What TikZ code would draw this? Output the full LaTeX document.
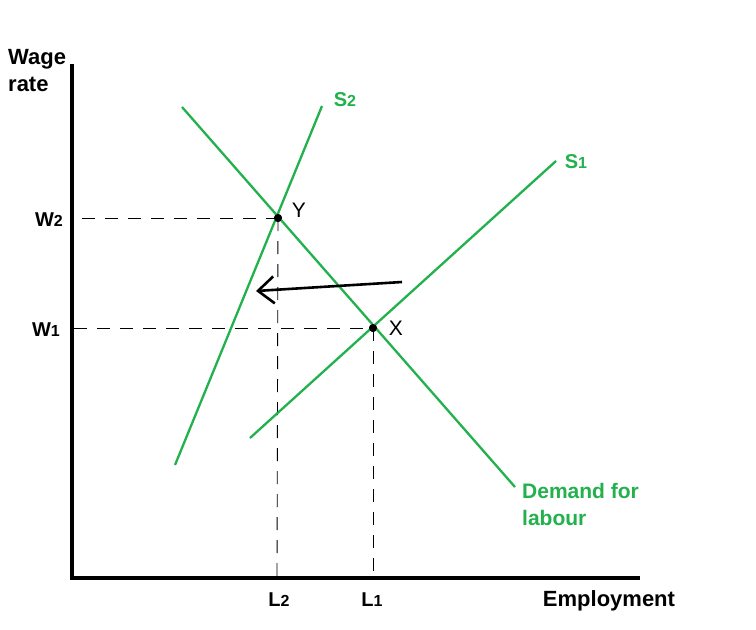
\documentclass[tikz,border=0pt]{standalone}
\usepackage{fontspec}
\setmainfont{Liberation Sans}
\usetikzlibrary{arrows.meta}
\definecolor{pgreen}{RGB}{34,177,76}
\newcommand{\dig}[1]{{\fontsize{16}{16}\selectfont #1}}
\begin{document}
\begin{tikzpicture}[x=1pt,y=-1pt,
  axisline/.style={line width=4.5pt,line cap=rect},
  curve/.style={pgreen,line width=2.3pt},
  guide/.style={line width=0.9pt,dash pattern=on 13pt off 10pt},
  dot/.style={circle,fill=black,inner sep=0pt,minimum size=8pt},
  lab/.style={font=\fontsize{20}{22}\selectfont\bfseries,inner sep=0pt},
  biglab/.style={font=\fontsize{22}{24}\selectfont\bfseries,inner sep=0pt},
  glab/.style={lab,text=pgreen},
  dlab/.style={font=\fontsize{21}{24}\selectfont\bfseries,inner sep=0pt,text=pgreen},
  plab/.style={font=\fontsize{21}{22}\selectfont,inner sep=0pt},
  shiftarrow/.style={line width=2.6pt,-{Straight Barb[length=16pt,width=27pt,line width=2.6pt]}}]
\useasboundingbox (0,0) rectangle (756,630);
\fill[white] (0,0) rectangle (756,630);
% axes
\coordinate (O) at (72,578);
\coordinate (ytop) at (72,66);
\coordinate (xend) at (638,578);
\draw[axisline] (ytop) -- (O) -- (xend);
% points
\node[dot] (Y) at (278,218) {};
\node[dot] (X) at (373,328) {};
\coordinate (w2s) at (82,218);
\coordinate (w1s) at (74,328);
\coordinate (l2) at (277,578);
\coordinate (l1) at (373,578);
\draw[guide] (w2s) -- (Y.center);
\draw[guide] (w1s) -- (X.center);
\draw[guide] (Y.center) -- (l2);
\draw[guide] (X.center) -- (l1);
% curves
\coordinate (s2a) at (175,465);
\coordinate (s2b) at (322,106);
\coordinate (s1a) at (250,438);
\coordinate (s1b) at (556,161);
\coordinate (da) at (182,107);
\coordinate (db) at (515,487);
\draw[curve] (s2a) -- (s2b);
\draw[curve] (s1a) -- (s1b);
\draw[curve] (da) -- (db);
\node[dot] at (Y) {};
\node[dot] at (X) {};
% shift arrow
\coordinate (ast) at (402,282);
\coordinate (aen) at (256,291);
\draw[shiftarrow] (ast) -- (aen);
% labels
\node[biglab,anchor=base west] (wage) at (8,64) {Wage};
\node[biglab,anchor=base west] (rate) at (8,91) {rate};
\node[lab,anchor=base] (W2) at (49,226) {W\dig{2}};
\node[lab,anchor=base] (W1) at (46,336) {W\dig{1}};
\node[lab,anchor=base] (L2) at (279,606) {L\dig{2}};
\node[lab,anchor=base] (L1) at (372,606) {L\dig{1}};
\node[biglab,anchor=base] (emp) at (609,606) {Employment};
\node[glab,anchor=base] (S2) at (345,106) {S\dig{2}};
\node[glab,anchor=base] (S1) at (576,168) {S\dig{1}};
\node[plab,anchor=base] (Ylab) at (299,217) {Y};
\node[plab,anchor=base] (Xlab) at (396,335) {X};
\node[dlab,anchor=base west] (dem1) at (522,498) {Demand for};
\node[dlab,anchor=base west] (dem2) at (522,525) {labour};
\end{tikzpicture}
\end{document}
